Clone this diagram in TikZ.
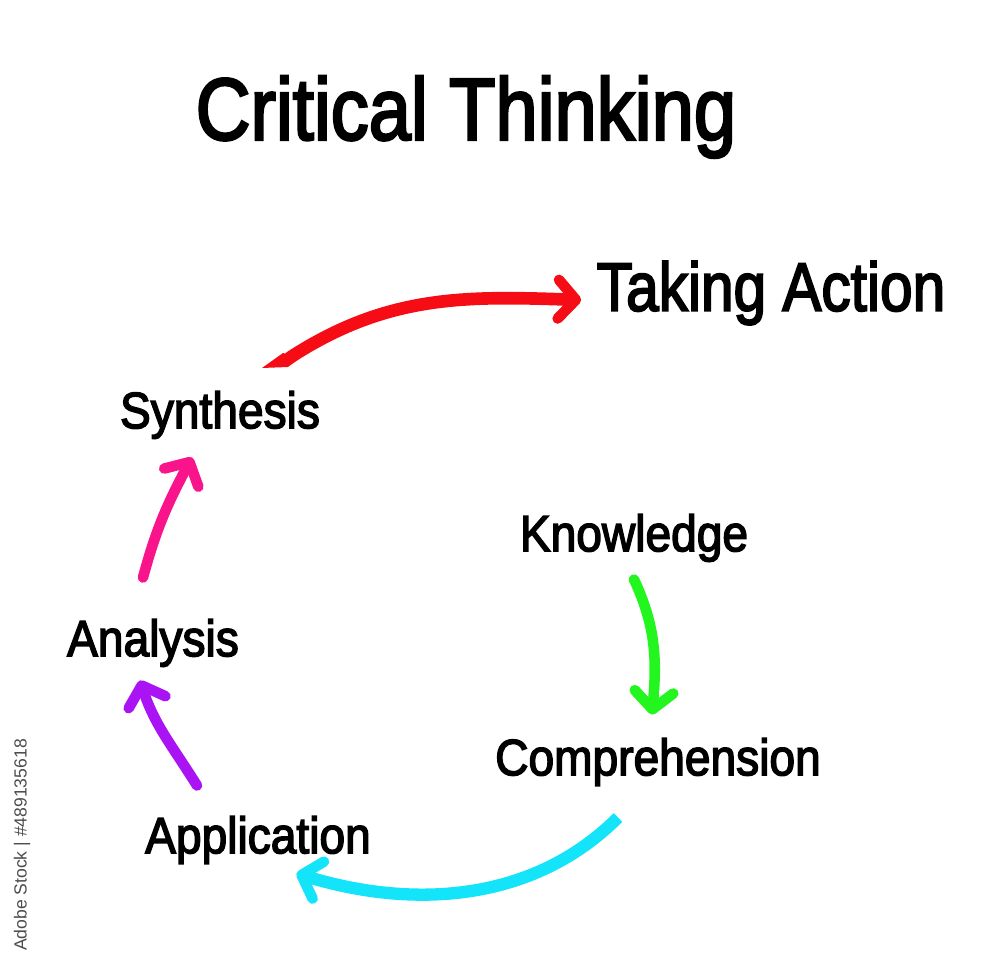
\documentclass[tikz,border=0pt]{standalone}
\usepackage{fontspec}
\setmainfont[FakeBold=3]{Liberation Sans}
\newfontfamily\stockfont{Liberation Sans}
\usepackage{tikz}
\usetikzlibrary{arrows.meta}
\usetikzlibrary{positioning}
\tikzset{step label/.style = {inner sep = 0, font = \fontsize{14.5}{14.5}\selectfont, xscale = 0.905}}
\tikzset{big label/.style = {inner sep = 0, font = \fontsize{19.5}{19.5}\selectfont, xscale = 0.855}}
\tikzset{flow/.style = {line width = 3pt, line cap = round, -{Straight Barb[round, length = 5pt, width = 11pt, line width = 3pt]}}}
\definecolor{flowred}{RGB}{245,12,20}
\definecolor{flowpink}{RGB}{250,20,140}
\definecolor{flowpurple}{RGB}{170,20,245}
\definecolor{flowcyan}{RGB}{20,228,250}
\definecolor{flowgreen}{RGB}{35,245,30}
\begin{document}
\begin{tikzpicture}
  \useasboundingbox (0, 0) rectangle (10, 9.7);

  \node [inner sep = 0, font = \fontsize{25}{25}\selectfont, xscale = 0.865] (title) at (4.66, 8.53) {Critical Thinking};
  \node [big label] (action) at (7.71, 6.77) {Taking Action};

  \node [step label] (knowledge) at (6.34, 4.32) {Knowledge};
  \node [step label] (comprehension) at (6.58, 2.08) {Comprehension};
  \node [step label] (application) at (2.58, 1.30) {Application};
  \node [step label] (analysis) at (1.53, 3.27) {Analysis};
  \node [step label] (synthesis) at (2.20, 5.55) {Synthesis};

  \node [rotate = 90, inner sep = 0, font = \stockfont\fontsize{5}{5}\selectfont, text = black!70] (stock) at (0.22, 1.25) {Adobe Stock | \#489135618};

  \draw [flow, flowgreen] ([shift = {(0, -0.17)}] knowledge.south) to [out = -65, in = 85] ([shift = {(-0.06, 0.23)}] comprehension.north);
  \draw [flow, flowcyan, line width = 3.5pt, line cap = butt] ([shift = {(-0.4, -0.31)}] comprehension.south) to [out = -135, in = -17, looseness = 0.95] ([shift = {(-0.75, -0.09)}] application.south east);
  \draw [flow, flowpurple] ([shift = {(-0.61, 0.3)}] application.north) to [out = 122, in = -72] ([shift = {(-0.13, -0.13)}] analysis.south);
  \draw [flow, flowpink] ([shift = {(-0.1, 0.41)}] analysis.north) to [out = 75, in = -118] ([shift = {(-0.28, -0.18)}] synthesis.south);
  \fill [flowred] (2.62, 6.02) -- (2.83, 6.17) -- (3.0, 6.12) -- (2.88, 6.03) -- cycle;
  \draw [flow, flowred, line width = 3.6pt] ([shift = {(0.7, 0.33)}] synthesis.north) to [out = 33, in = 178] ([shift = {(-0.15, -0.07)}] action.west);
\end{tikzpicture}
\end{document}
